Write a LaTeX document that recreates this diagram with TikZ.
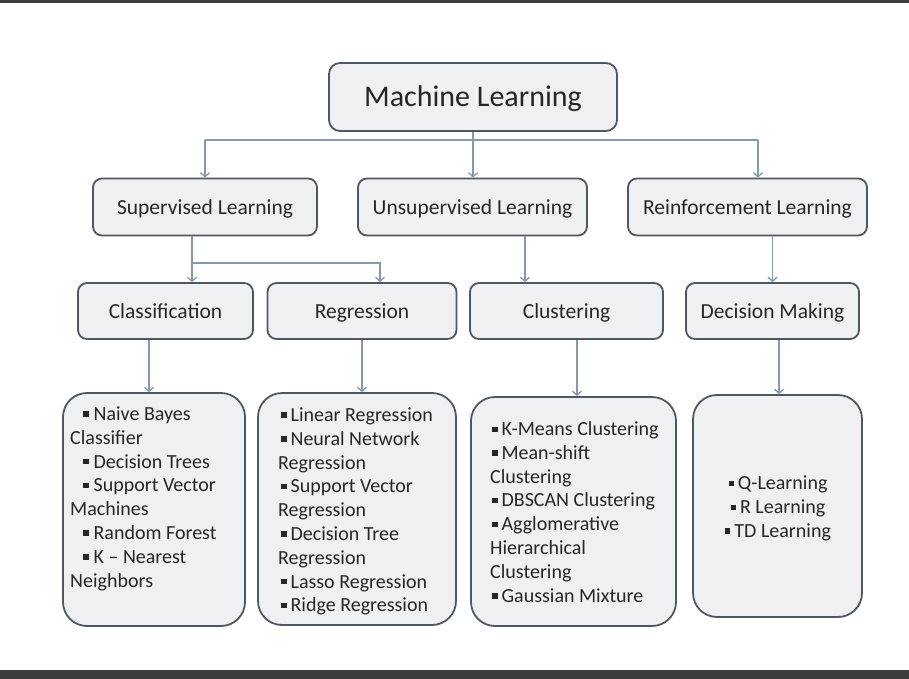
\documentclass[tikz,border=0pt]{standalone}
\usepackage{fontspec}
\setmainfont{Carlito}
\usetikzlibrary{arrows.meta}
\definecolor{boxfill}{HTML}{EFF0F2}
\definecolor{boxline}{HTML}{4E5864}
\definecolor{connc}{HTML}{8499B0}
\definecolor{stripc}{HTML}{3C3C3C}
\newcommand{\bl}{\rule[0.18em]{0.27em}{0.27em}}
\begin{document}
\begin{tikzpicture}[x=1pt,y=-1pt,
  box/.style={draw=boxline, line width=1.8pt, fill=boxfill, rounded corners=9pt,
    minimum height=57pt, text=black!85, font=\fontsize{21.5}{25}\selectfont,
    text height=19.5pt, text depth=5pt},
  listbox/.style={draw=boxline, line width=1.8pt, fill=boxfill, rounded corners=24pt},
  listtext/.style={inner sep=0pt, align=left, text=black!85, font=\fontsize{20}{23.8}\selectfont},
  connline/.style={draw=connc, line width=1.3pt},
  conn/.style={draw=connc, line width=1.3pt, -{Straight Barb[length=4pt,width=9pt]}}
]
\useasboundingbox (0,0) rectangle (909,679);
\fill[white] (0,0) rectangle (909,679);
\fill[stripc] (0,0) rectangle (909,3);
\fill[stripc] (0,670) rectangle (909,679);

% top
\node[box, minimum width=288pt, minimum height=68pt, rounded corners=11pt,
  font=\fontsize{30}{34}\selectfont, text height=25pt, text depth=6pt] (ml) at (473,97) {Machine Learning};

% level 1
\node[box, minimum width=224pt] (sup) at (205,207) {Supervised Learning};
\node[box, minimum width=229pt] (uns) at (472.5,207) {Unsupervised Learning};
\node[box, minimum width=239pt] (rei) at (747.5,207) {Reinforcement Learning};

% level 2
\node[box, minimum width=175pt, minimum height=56pt] (cls) at (165.5,311) {Classification};
\node[box, minimum width=189pt, minimum height=56pt] (reg) at (362,311) {Regression};
\node[box, minimum width=193pt, minimum height=56pt] (clu) at (566.5,311) {Clustering};
\node[box, minimum width=173pt, minimum height=56pt] (dm) at (772.5,311) {Decision Making};

% lists
\node[listbox, minimum width=182pt, minimum height=233pt] (L1) at (154,509.5) {};
\node[listbox, minimum width=198pt, minimum height=232pt] (L2) at (357,509) {};
\node[listbox, minimum width=205pt, minimum height=229pt] (L3) at (573.5,511.5) {};
\node[listbox, minimum width=169pt, minimum height=222pt] (L4) at (777.5,506) {};

\node[listtext, anchor=north west] (T1) at (70,406.5) {%
\hspace*{13pt}\bl\hspace{5pt}Naive Bayes\\
Classifier\\
\hspace*{13pt}\bl\hspace{5pt}Decision Trees\\
\hspace*{13pt}\bl\hspace{5pt}Support Vector\\
Machines\\
\hspace*{13pt}\bl\hspace{5pt}Random Forest\\
\hspace*{13pt}\bl\hspace{5pt}K -- Nearest\\
Neighbors};

\node[listtext, anchor=north west] (T2) at (278,407.5) {%
\hspace*{3pt}\bl\hspace{4pt}Linear Regression\\
\hspace*{3pt}\bl\hspace{4pt}Neural Network\\
Regression\\
\hspace*{3pt}\bl\hspace{4pt}Support Vector\\
Regression\\
\hspace*{3pt}\bl\hspace{4pt}Decision Tree\\
Regression\\
\hspace*{3pt}\bl\hspace{4pt}Lasso Regression\\
\hspace*{3pt}\bl\hspace{4pt}Ridge Regression};

\node[listtext, anchor=north west] (T3) at (490,421.5) {%
\hspace*{2pt}\bl\hspace{4pt}K-Means Clustering\\
\hspace*{2pt}\bl\hspace{4pt}Mean-shift\\
Clustering\\
\hspace*{2pt}\bl\hspace{4pt}DBSCAN Clustering\\
\hspace*{2pt}\bl\hspace{4pt}Agglomerative\\
Hierarchical\\
Clustering\\
\hspace*{2pt}\bl\hspace{4pt}Gaussian Mixture};

\node[listtext, align=center] (T4) at (778,508.5) {%
\bl\hspace{4pt}Q-Learning\\
\bl\hspace{4pt}R Learning\\
\bl\hspace{4pt}TD Learning};

% connectors
\coordinate (bus) at (473,140);
\coordinate (busl) at (205,140);
\coordinate (busr) at (758,140);
\draw[connline] (ml.south) -- (bus);
\draw[connline] (busl) -- (busr);
\draw[conn] (busl) -- (sup.north -| busl);
\draw[conn] (bus) -- (uns.north -| bus);
\draw[conn] (busr) -- (rei.north -| busr);

\coordinate (s1) at (192,263);
\coordinate (s2) at (380,263);
\draw[conn] (sup.south -| s1) -- (cls.north -| s1);
\draw[conn] (s1) -- (s2) -- (reg.north -| s2);

\coordinate (u1) at (525,260);
\draw[conn] (uns.south -| u1) -- (clu.north -| u1);
\draw[conn] (rei.south -| dm) -- (dm.north);

\coordinate (c1) at (149,360);
\coordinate (c3) at (577,360);
\coordinate (c4) at (779,360);
\draw[conn] (cls.south -| c1) -- (L1.north -| c1);
\draw[conn] (reg.south) -- (L2.north -| reg);
\draw[conn] (clu.south -| c3) -- (L3.north -| c3);
\draw[conn] (dm.south -| c4) -- (L4.north -| c4);
\end{tikzpicture}
\end{document}
